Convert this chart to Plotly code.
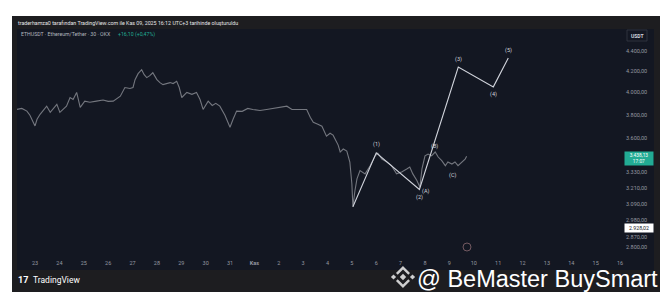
import math
import plotly.graph_objects as go

W, H = 668, 302

# ---------------- data ----------------
day_groups = [
    ("2025-10-22", ["06:00", "11:00", "16:00", "19:00"], [3846, 3855, 3831, 3795]),
    ("2025-10-23", ["00:00", "02:00", "05:00", "11:30", "15:00", "21:30"], [3703, 3760, 3803, 3875, 3820, 3891]),
    ("2025-10-24", ["00:30", "07:00", "10:30", "13:30", "17:00", "20:30"], [3820, 3875, 3953, 3935, 3999, 3864]),
    ("2025-10-25", ["01:00", "06:00", "12:30", "19:00"], [3920, 3910, 3920, 3930]),
    ("2025-10-26", ["00:00", "05:00", "12:00", "16:30", "21:30"], [3918, 3920, 3965, 4045, 4036]),
    ("2025-10-27", ["00:30", "02:30", "05:30", "09:00", "11:30", "14:00", "17:00", "20:00"],
     [4045, 4119, 4176, 4214, 4166, 4138, 4157, 4185]),
    ("2025-10-28", ["00:00", "03:00", "06:00", "13:00", "16:00", "19:30", "22:00"], [4119, 4091, 4072, 4091, 4082, 4103, 4045]),
    ("2025-10-29", ["00:30", "05:30", "10:30", "15:00", "18:30", "21:30"], [3953, 3999, 3982, 3999, 3935, 3846]),
    ("2025-10-30", ["02:30", "06:30", "10:00", "14:00", "19:00"], [3920, 3881, 3900, 3875, 3795]),
    ("2025-10-31", ["00:00", "03:00", "06:30", "12:00", "17:30", "22:30"], [3692, 3760, 3831, 3829, 3855, 3846]),
    ("2025-11-01", ["05:30", "12:00", "18:30"], [3837, 3846, 3855]),
    ("2025-11-02", ["01:00", "08:00", "13:00", "21:00"], [3864, 3875, 3846, 3846]),
    ("2025-11-03", ["03:30", "07:00", "10:00", "14:30", "18:30", "23:00"], [3846, 3777, 3734, 3717, 3700, 3616]),
    ("2025-11-04", ["02:30", "05:30", "10:30", "12:30", "15:30", "19:00", "22:00"], [3641, 3625, 3543, 3487, 3511, 3495, 3408]),
    ("2025-11-05", ["00:00", "01:00", "03:00", "05:00", "08:00", "11:00", "13:00", "18:00", "23:00"],
     [3240, 3075, 3190, 3278, 3341, 3323, 3316, 3379, 3457]),
    ("2025-11-06", ["01:30", "05:30", "10:30", "15:00", "20:00"], [3479, 3431, 3408, 3379, 3316]),
    ("2025-11-07", ["01:00", "06:00", "09:00", "12:00", "16:00", "19:00", "21:00"], [3331, 3354, 3369, 3316, 3266, 3216, 3354]),
    ("2025-11-08", ["00:00", "03:00", "06:30", "10:00", "13:00", "16:30", "20:00", "22:30"],
     [3457, 3471, 3457, 3487, 3447, 3418, 3379, 3408]),
    ("2025-11-09", ["02:30", "05:30", "08:30", "12:00", "15:30", "17:00"], [3392, 3408, 3379, 3408, 3431, 3453]),
]
price_times = []
price_values = []
for d, hrs, vals in day_groups:
    for h_, v in zip(hrs, vals):
        price_times.append(f"{d} {h_}")
        price_values.append(v)

wave_times = ["2025-11-05 01:00", "2025-11-06 00:00", "2025-11-07 18:30",
              "2025-11-09 08:45", "2025-11-10 19:15", "2025-11-11 10:00"]
wave_prices = [3075, 3480, 3199, 4240, 4051, 4328]
wave_labels = ["", "(1)", "(2)", "(3)", "(4)", "(5)"]
wave_label_side = [0, 1, -1, 1, -1, 1]

corr_labels = ["(A)", "(B)", "(C)"]
corr_times = ["2025-11-08 00:00", "2025-11-08 09:50", "2025-11-09 03:30"]
corr_prices = [3185, 3535, 3301]

support_level = 2928.02
last_price = 3438.13

y_tick_vals = [4400, 4200, 4000, 3800, 3600, 3330, 3210, 3090, 2980, 2870, 2800]
y_tick_text = ["4.400,00", "4.200,00", "4.000,00", "3.800,00", "3.600,00", "3.330,00",
               "3.210,00", "3.090,00", "2.980,00", "2.870,00", "2.800,00"]

x_tick_vals = ["2025-10-%02d" % d for d in range(23, 32)] + ["2025-11-%02d" % d for d in range(1, 17)]
x_tick_text = [str(d) for d in range(23, 32)] + ["<b>Kas</b>"] + [str(d) for d in range(2, 17)]

# ---------------- helpers ----------------
def px(x):
    return x / W

def py(y):
    return 1 - y / H

FONT = "Roboto, Liberation Sans, sans-serif"
WAVE_COLOR = "#d1d4dc"

fig = go.Figure()

fig.add_trace(go.Scatter(
    x=price_times, y=price_values, mode="lines",
    line=dict(color="#74777f", width=1.1), hoverinfo="skip", showlegend=False))

fig.add_trace(go.Scatter(
    x=wave_times, y=wave_prices, mode="lines",
    line=dict(color=WAVE_COLOR, width=1.1), hoverinfo="skip", showlegend=False))

shapes = []
# outer snapshot frame
shapes.append(dict(type="rect", xref="paper", yref="paper", x0=px(12), x1=px(660), y0=py(292), y1=py(16),
                   fillcolor="#1d1d20", line=dict(width=0), layer="below"))
# chart panel
shapes.append(dict(type="rect", xref="paper", yref="paper", x0=px(17), x1=px(654), y0=py(270), y1=py(29),
                   fillcolor="#131722", line=dict(width=0), layer="below"))
# support line
shapes.append(dict(type="line", xref="x domain", yref="y", x0=0, x1=1,
                   y0=math.log10(support_level), y1=math.log10(support_level),
                   line=dict(color="#c3c5cc", width=1.4)))
# last price dotted line
shapes.append(dict(type="line", xref="x domain", yref="y", x0=0, x1=1,
                   y0=math.log10(last_price), y1=math.log10(last_price),
                   line=dict(color="rgba(120,123,134,0.45)", width=1, dash="dot")))
# USDT box
shapes.append(dict(type="rect", xref="paper", yref="paper", x0=px(627), x1=px(647), y0=py(41), y1=py(30),
                   fillcolor="#131722", line=dict(color="#363a45", width=0.8)))
# small circle icon
shapes.append(dict(type="circle", xref="paper", yref="paper", x0=px(463), x1=px(471), y0=py(251), y1=py(243),
                   line=dict(color="#8a6a70", width=0.8)))

# Binance-like logo
def poly(points):
    s = "M " + " L ".join(f"{px(a):.5f},{py(b):.5f}" for a, b in points) + " Z"
    return s

def diamond(cx, cy, r):
    return poly([(cx, cy - r), (cx + r, cy), (cx, cy + r), (cx - r, cy)])

LOGO = "#cfcfcf"
cx, cy = 403, 277
for p in [diamond(cx, cy, 3.2), diamond(cx - 9.5, cy, 2.6), diamond(cx + 9.5, cy, 2.6),
          poly([(cx, cy - 11), (cx + 7, cy - 4), (cx + 5.3, cy - 2.3), (cx, cy - 7.6), (cx - 5.3, cy - 2.3), (cx - 7, cy - 4)]),
          poly([(cx, cy + 11), (cx + 7, cy + 4), (cx + 5.3, cy + 2.3), (cx, cy + 7.6), (cx - 5.3, cy + 2.3), (cx - 7, cy + 4)])]:
    shapes.append(dict(type="path", xref="paper", yref="paper", path=p, fillcolor=LOGO, line=dict(width=0)))

ann = []
ann.append(dict(xref="paper", yref="paper", x=px(16), y=py(23), xanchor="left", yanchor="middle", showarrow=False,
                text="traderhamza0 tarafından TradingView.com ile Kas 09, 2025 16:12 UTC+3 tarihinde oluşturuldu",
                font=dict(family=FONT, size=5.3, color="#e6e6e6")))
ann.append(dict(xref="paper", yref="paper", x=px(19), y=py(34), xanchor="left", yanchor="middle", showarrow=False,
                text="ETHUSDT · Ethereum/Tether · 30 · OKX", font=dict(family=FONT, size=5.2, color="#b2b5be")))
ann.append(dict(xref="paper", yref="paper", x=px(116), y=py(34), xanchor="left", yanchor="middle", showarrow=False,
                text="+16,10 (+0,47%)", font=dict(family=FONT, size=5.2, color="#22ab94")))
ann.append(dict(xref="paper", yref="paper", x=px(637), y=py(35.5), xanchor="center", yanchor="middle", showarrow=False,
                text="<b>USDT</b>", font=dict(family=FONT, size=5, color="#d1d4dc")))
# price boxes on axis
ann.append(dict(xref="paper", yref="y", x=px(639), y=math.log10(last_price), xanchor="center", yanchor="middle",
                showarrow=False, text="3.438,13<br>17:07", bgcolor="#22ab94", borderpad=1, width=26,
                font=dict(family=FONT, size=4.8, color="#ffffff")))
ann.append(dict(xref="paper", yref="y", x=px(639), y=math.log10(support_level), xanchor="center", yanchor="middle",
                showarrow=False, text="2.928,02", bgcolor="#ffffff", borderpad=1, width=26,
                font=dict(family=FONT, size=5.2, color="#131722")))
# wave labels
for t, v, lab, side in zip(wave_times, wave_prices, wave_labels, wave_label_side):
    if lab:
        ann.append(dict(x=t, y=math.log10(v), text=lab, showarrow=False, yshift=8 * side,
                        font=dict(family=FONT, size=5.5, color=WAVE_COLOR)))
for t, v, lab in zip(corr_times, corr_prices, corr_labels):
    ann.append(dict(x=t, y=math.log10(v), text=lab, showarrow=False,
                    font=dict(family=FONT, size=5.5, color=WAVE_COLOR)))
# footer
ann.append(dict(xref="paper", yref="paper", x=px(16), y=py(280), xanchor="left", yanchor="middle", showarrow=False,
                text="<b>17</b>", font=dict(family=FONT, size=9, color="#ffffff")))
ann.append(dict(xref="paper", yref="paper", x=px(31), y=py(280), xanchor="left", yanchor="middle", showarrow=False,
                text="TradingView", font=dict(family=FONT, size=8.5, color="#ffffff")))
ann.append(dict(xref="paper", yref="paper", x=px(660), y=py(279), xanchor="right", yanchor="middle", showarrow=False,
                text="@ BeMaster BuySmart", font=dict(family="Liberation Sans, Arial, sans-serif", size=23.5, color="#ffffff")))

fig.update_layout(
    width=W, height=H, autosize=False,
    margin=dict(l=0, r=0, t=0, b=0),
    paper_bgcolor="#ffffff", plot_bgcolor="rgba(0,0,0,0)",
    showlegend=False, shapes=shapes, annotations=ann,
    xaxis=dict(domain=[px(17), px(625)], range=["2025-10-22 06:16", "2025-11-16 04:55"],
               showgrid=False, zeroline=False, showline=False, ticks="", ticklabelstandoff=5,
               tickvals=x_tick_vals, ticktext=x_tick_text, tickangle=0,
               tickfont=dict(family=FONT, size=5.5, color="#9598a1")),
    yaxis=dict(domain=[py(253), py(29)], type="log",
               range=[math.log10(2764), math.log10(4628)], side="right",
               showgrid=False, zeroline=False, showline=False, ticks="",
               tickvals=y_tick_vals, ticktext=y_tick_text,
               tickfont=dict(family=FONT, size=5.5, color="#9598a1")),
)

fig.write_html("out.html")
